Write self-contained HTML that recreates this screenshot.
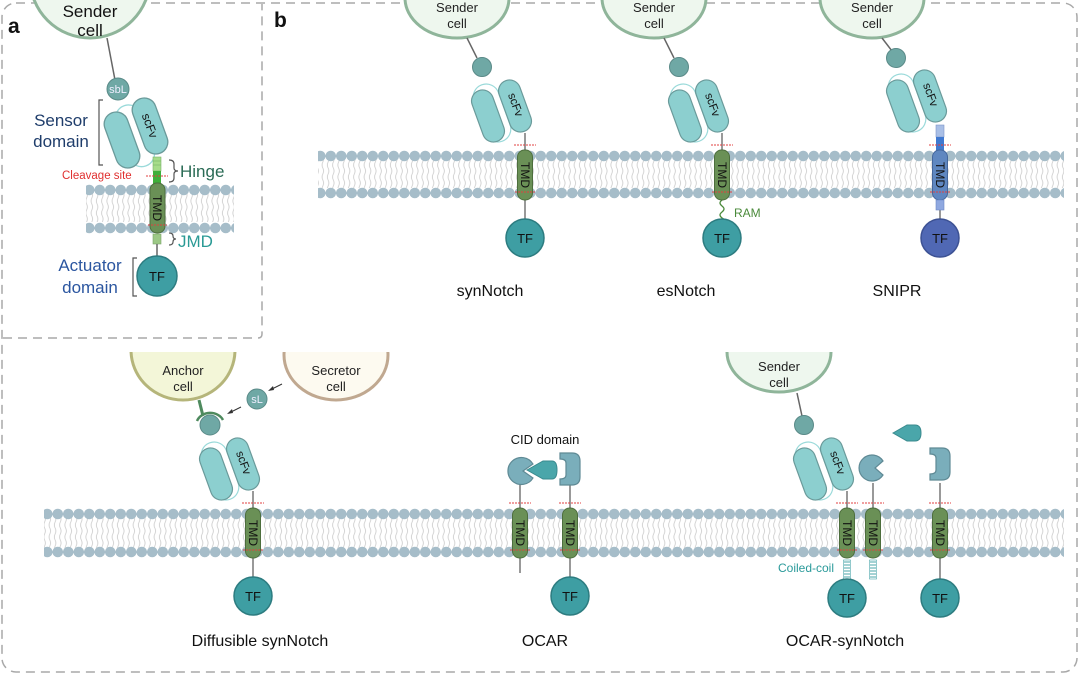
<!DOCTYPE html>
<html><head><meta charset="utf-8">
<style>
html,body{margin:0;padding:0;background:#fff;}
svg{display:block;font-family:"Liberation Sans",Arial,sans-serif;}
</style></head>
<body>
<svg width="1080" height="677" viewBox="0 0 1080 677" xmlns="http://www.w3.org/2000/svg">
<defs>
<pattern id="b184" x="0" y="184" width="10.5" height="12" patternUnits="userSpaceOnUse"><circle cx="5.25" cy="6" r="5.3" fill="#a6bdc9"/></pattern>
<pattern id="b222" x="0" y="222" width="10.5" height="12" patternUnits="userSpaceOnUse"><circle cx="5.25" cy="6" r="5.3" fill="#a6bdc9"/></pattern>
<pattern id="b150" x="0" y="150" width="10.5" height="12" patternUnits="userSpaceOnUse"><circle cx="5.25" cy="6" r="5.3" fill="#a6bdc9"/></pattern>
<pattern id="b187" x="0" y="187" width="10.5" height="12" patternUnits="userSpaceOnUse"><circle cx="5.25" cy="6" r="5.3" fill="#a6bdc9"/></pattern>
<pattern id="b508" x="0" y="508" width="10.5" height="12" patternUnits="userSpaceOnUse"><circle cx="5.25" cy="6" r="5.3" fill="#a6bdc9"/></pattern>
<pattern id="b546" x="0" y="546" width="10.5" height="12" patternUnits="userSpaceOnUse"><circle cx="5.25" cy="6" r="5.3" fill="#a6bdc9"/></pattern>
<pattern id="tail" x="0" y="0" width="5.25" height="24" patternUnits="userSpaceOnUse">
<path d="M2.6,0 q1.5,3 0,6 q-1.5,3 0,6 q1.5,3 0,6 q-1.5,3 0,6" fill="none" stroke="#c9c9c9" stroke-width="0.8"/>
</pattern>
<clipPath id="clipB"><rect x="0" y="352" width="1080" height="100"/></clipPath>
</defs>

<!-- frames -->
<rect x="2" y="3" width="1075" height="669" rx="14" fill="none" stroke="#a9a9a9" stroke-width="1.5" stroke-dasharray="9,6"/>
<path d="M3,338 H258 Q262,338 262,334 V4" fill="none" stroke="#a9a9a9" stroke-width="1.5" stroke-dasharray="9,6"/>
<text x="8" y="33" font-size="21" font-weight="bold" fill="#111">a</text>
<text x="274" y="27" font-size="21" font-weight="bold" fill="#111">b</text>

<!-- ============ membranes ============ -->
<rect x="86" y="194" width="148" height="28" fill="url(#tail)"/>
<rect x="86" y="184" width="148" height="12" fill="url(#b184)"/>
<rect x="86" y="222" width="148" height="12" fill="url(#b222)"/>
<rect x="318" y="160" width="746" height="28" fill="url(#tail)"/>
<rect x="318" y="150" width="746" height="12" fill="url(#b150)"/>
<rect x="318" y="187" width="746" height="12" fill="url(#b187)"/>
<rect x="44" y="518" width="1020" height="30" fill="url(#tail)"/>
<rect x="44" y="508" width="1020" height="12" fill="url(#b508)"/>
<rect x="44" y="546" width="1020" height="12" fill="url(#b546)"/>

<!-- ============ panel a ============ -->
<circle cx="90" cy="-22" r="60" fill="#eef7ee" stroke="#8fb59a" stroke-width="3"/>
<text x="90" y="17" font-size="17" text-anchor="middle" fill="#111">Sender</text>
<text x="90" y="36" font-size="17" text-anchor="middle" fill="#111">cell</text>
<line x1="107" y1="38" x2="115" y2="80" stroke="#666" stroke-width="1.5"/>
<circle cx="118" cy="89" r="11" fill="#6fa8a5" stroke="#5a8a88"/>
<text x="118" y="93" font-size="11" text-anchor="middle" fill="#eef">sbL</text>
<rect x="-13" y="-29" width="26" height="64" rx="13" transform="translate(134,133) rotate(-20)" fill="none" stroke="#9adada" stroke-width="1.3"/>
<rect x="-12" y="-29" width="24" height="58" rx="12" transform="translate(122,140) rotate(-20)" fill="#8ccfcf" stroke="#6a9a9a" stroke-width="1.3"/>
<rect x="-12" y="-29" width="24" height="58" rx="12" transform="translate(150,126) rotate(-20)" fill="#8ccfcf" stroke="#6a9a9a" stroke-width="1.3"/>
<text transform="translate(146,127) rotate(70)" font-size="12" text-anchor="middle" fill="#111">scFv</text>
<rect x="153" y="157" width="8" height="14" fill="#a6dc8a" stroke="#7bb36a" stroke-width="0.6"/>
<line x1="153" y1="161" x2="161" y2="161" stroke="#7bb36a" stroke-width="0.6"/>
<line x1="153" y1="165" x2="161" y2="165" stroke="#7bb36a" stroke-width="0.6"/>
<rect x="153" y="171" width="8" height="14" fill="#3fb03a"/>
<rect x="150" y="183" width="15" height="50" rx="7" fill="#6a9056" stroke="#4d6e3d"/>
<text transform="translate(153,208) rotate(90)" font-size="12" text-anchor="middle" fill="#111">TMD</text>
<line x1="146" y1="176" x2="168" y2="176" stroke="#e04040" stroke-width="1" stroke-dasharray="2,1"/>
<line x1="148" y1="225" x2="167" y2="225" stroke="#e04040" stroke-width="1" stroke-dasharray="2,1"/>
<rect x="153" y="234" width="8" height="10" fill="#9cc886" stroke="#7aa46a" stroke-width="0.6"/>
<line x1="157" y1="244" x2="157" y2="256" stroke="#666" stroke-width="1.5"/>
<circle cx="157" cy="276" r="20" fill="#3e9ea3" stroke="#2d7c80" stroke-width="1.5"/>
<text x="157" y="281" font-size="13" text-anchor="middle" fill="#111">TF</text>
<path d="M103,100 h-4 v65 h4" fill="none" stroke="#555" stroke-width="1.2"/>
<text x="61" y="126" font-size="17" text-anchor="middle" fill="#1f3d6b">Sensor</text>
<text x="61" y="147" font-size="17" text-anchor="middle" fill="#1f3d6b">domain</text>
<path d="M169,160 q5,0 5,4 v4 q0,3 4,3 q-4,0 -4,3 v4 q0,4 -5,4" fill="none" stroke="#555" stroke-width="1.2"/>
<text x="180" y="177" font-size="17" fill="#2a6b55">Hinge</text>
<text x="62" y="179" font-size="11.5" fill="#e03030">Cleavage site</text>
<path d="M169,233 q4,0 4,3 q0,3 3,3 q-3,0 -3,3 q0,3 -4,3" fill="none" stroke="#555" stroke-width="1.2"/>
<text x="178" y="247" font-size="17" fill="#2a9a95">JMD</text>
<path d="M137,258 h-4 v38 h4" fill="none" stroke="#555" stroke-width="1.2"/>
<text x="90" y="271" font-size="17" text-anchor="middle" fill="#2b56a0">Actuator</text>
<text x="90" y="293" font-size="17" text-anchor="middle" fill="#2b56a0">domain</text>

<!-- synNotch -->
<g transform="translate(525,155)">
<ellipse cx="-68" cy="-157" rx="52" ry="40" fill="#eef7ee" stroke="#8fb59a" stroke-width="3"/>
<text x="-68" y="-143" font-size="13" text-anchor="middle" fill="#222">Sender</text>
<text x="-68" y="-127" font-size="13" text-anchor="middle" fill="#222">cell</text>
<line x1="-48" y1="-97" x2="-58" y2="-117" stroke="#666" stroke-width="1.5"/>
<circle cx="-43" cy="-88" r="9.5" fill="#6fa8a5" stroke="#5a8a88"/>
<line x1="0" y1="-22" x2="0" y2="66" stroke="#777" stroke-width="1.5"/>
<rect x="-13" y="-30" width="26" height="60" rx="13" transform="translate(-33,-42) rotate(-20)" fill="none" stroke="#9adada" stroke-width="1.2"/>
<rect x="-11" y="-27" width="22" height="54" rx="11" transform="translate(-37,-39) rotate(-20)" fill="#8ccfcf" stroke="#6a9a9a" stroke-width="1.2"/>
<rect x="-11" y="-27" width="22" height="54" rx="11" transform="translate(-10,-49) rotate(-20)" fill="#8ccfcf" stroke="#6a9a9a" stroke-width="1.2"/>
<text transform="translate(-13,-49) rotate(70)" font-size="11.5" text-anchor="middle" fill="#111">scFv</text>
<line x1="-11" y1="-10" x2="11" y2="-10" stroke="#e04040" stroke-width="1" stroke-dasharray="2,1"/>
<rect x="-7.5" y="-5" width="15" height="50" rx="7" fill="#6a9056" stroke="#4d6e3d"/>
<text transform="translate(-4,20) rotate(90)" font-size="12" text-anchor="middle" fill="#111">TMD</text>
<line x1="-10" y1="37" x2="10" y2="37" stroke="#e04040" stroke-width="1" stroke-dasharray="2,1"/>
<circle cx="0" cy="83" r="19" fill="#3e9ea3" stroke="#2d7c80" stroke-width="1.5"/>
<text x="0" y="88" font-size="13" text-anchor="middle" fill="#111">TF</text>
</g>

<!-- esNotch -->
<g transform="translate(722,155)">
<ellipse cx="-68" cy="-157" rx="52" ry="40" fill="#eef7ee" stroke="#8fb59a" stroke-width="3"/>
<text x="-68" y="-143" font-size="13" text-anchor="middle" fill="#222">Sender</text>
<text x="-68" y="-127" font-size="13" text-anchor="middle" fill="#222">cell</text>
<line x1="-48" y1="-97" x2="-58" y2="-117" stroke="#666" stroke-width="1.5"/>
<circle cx="-43" cy="-88" r="9.5" fill="#6fa8a5" stroke="#5a8a88"/>
<line x1="0" y1="-22" x2="0" y2="0" stroke="#777" stroke-width="1.5"/>
<path d="M0,45 q-4,3 0,6 q4,3 0,6 q-4,3 0,6 q4,2 0,4" fill="none" stroke="#4a8a3a" stroke-width="1.3"/>
<rect x="-13" y="-30" width="26" height="60" rx="13" transform="translate(-33,-42) rotate(-20)" fill="none" stroke="#9adada" stroke-width="1.2"/>
<rect x="-11" y="-27" width="22" height="54" rx="11" transform="translate(-37,-39) rotate(-20)" fill="#8ccfcf" stroke="#6a9a9a" stroke-width="1.2"/>
<rect x="-11" y="-27" width="22" height="54" rx="11" transform="translate(-10,-49) rotate(-20)" fill="#8ccfcf" stroke="#6a9a9a" stroke-width="1.2"/>
<text transform="translate(-13,-49) rotate(70)" font-size="11.5" text-anchor="middle" fill="#111">scFv</text>
<line x1="-11" y1="-10" x2="11" y2="-10" stroke="#e04040" stroke-width="1" stroke-dasharray="2,1"/>
<rect x="-7.5" y="-5" width="15" height="50" rx="7" fill="#6a9056" stroke="#4d6e3d"/>
<text transform="translate(-4,20) rotate(90)" font-size="12" text-anchor="middle" fill="#111">TMD</text>
<line x1="-10" y1="37" x2="10" y2="37" stroke="#e04040" stroke-width="1" stroke-dasharray="2,1"/>
<text x="12" y="62" font-size="12" fill="#4a8a3a">RAM</text>
<circle cx="0" cy="83" r="19" fill="#3e9ea3" stroke="#2d7c80" stroke-width="1.5"/>
<text x="0" y="88" font-size="13" text-anchor="middle" fill="#111">TF</text>
</g>

<!-- SNIPR -->
<g transform="translate(940,155)">
<ellipse cx="-68" cy="-157" rx="52" ry="40" fill="#eef7ee" stroke="#8fb59a" stroke-width="3"/>
<text x="-68" y="-143" font-size="13" text-anchor="middle" fill="#222">Sender</text>
<text x="-68" y="-127" font-size="13" text-anchor="middle" fill="#222">cell</text>
<line x1="-48" y1="-104" x2="-58" y2="-117" stroke="#666" stroke-width="1.5"/>
<circle cx="-44" cy="-97" r="9.5" fill="#6fa8a5" stroke="#5a8a88"/>
<line x1="0" y1="-30" x2="0" y2="66" stroke="#777" stroke-width="1.5"/>
<rect x="-13" y="-30" width="26" height="60" rx="13" transform="translate(-33,-52) rotate(-20)" fill="none" stroke="#9adada" stroke-width="1.2"/>
<rect x="-11" y="-27" width="22" height="54" rx="11" transform="translate(-37,-49) rotate(-20)" fill="#8ccfcf" stroke="#6a9a9a" stroke-width="1.2"/>
<rect x="-11" y="-27" width="22" height="54" rx="11" transform="translate(-10,-59) rotate(-20)" fill="#8ccfcf" stroke="#6a9a9a" stroke-width="1.2"/>
<text transform="translate(-13,-59) rotate(70)" font-size="11.5" text-anchor="middle" fill="#111">scFv</text>
<rect x="-4" y="-30" width="8" height="12" fill="#a9bfe6" stroke="#7d95c8" stroke-width="0.6"/>
<rect x="-4" y="-18" width="8" height="14" fill="#3f78d0"/>
<line x1="-11" y1="-10" x2="11" y2="-10" stroke="#e04040" stroke-width="1" stroke-dasharray="2,1"/>
<rect x="-7.5" y="-5" width="15" height="50" rx="7" fill="#5f87c0" stroke="#45679c"/>
<text transform="translate(-4,20) rotate(90)" font-size="12" text-anchor="middle" fill="#111">TMD</text>
<line x1="-10" y1="37" x2="10" y2="37" stroke="#e04040" stroke-width="1" stroke-dasharray="2,1"/>
<rect x="-4" y="45" width="8" height="10" fill="#8fa8e0" stroke="#6d88c4" stroke-width="0.6"/>
<circle cx="0" cy="83" r="19" fill="#5068b4" stroke="#3d5294" stroke-width="1.5"/>
<text x="0" y="88" font-size="13" text-anchor="middle" fill="#111">TF</text>
</g>

<text x="490" y="296" font-size="16" text-anchor="middle" fill="#111">synNotch</text>
<text x="686" y="296" font-size="16" text-anchor="middle" fill="#111">esNotch</text>
<text x="897" y="296" font-size="16" text-anchor="middle" fill="#111">SNIPR</text>

<!-- ============ bottom row ============ -->
<g clip-path="url(#clipB)">
<ellipse cx="183" cy="350" rx="52" ry="50" fill="#f3f6d8" stroke="#b5b57a" stroke-width="3"/>
<ellipse cx="336" cy="355" rx="52" ry="45" fill="#fdfaf0" stroke="#c0a890" stroke-width="3"/>
<ellipse cx="779" cy="352" rx="52" ry="40" fill="#eef7ee" stroke="#8fb59a" stroke-width="3"/>
</g>
<text x="183" y="375" font-size="13" text-anchor="middle" fill="#222">Anchor</text>
<text x="183" y="391" font-size="13" text-anchor="middle" fill="#222">cell</text>
<text x="336" y="375" font-size="13" text-anchor="middle" fill="#222">Secretor</text>
<text x="336" y="391" font-size="13" text-anchor="middle" fill="#222">cell</text>
<line x1="199" y1="400" x2="203" y2="416" stroke="#4e8a5e" stroke-width="3"/>
<circle cx="210" cy="425" r="10" fill="#6fa8a5" stroke="#5a8a88"/>
<path d="M197,421 a14,12 0 0 1 26,-1" fill="none" stroke="#4e8a5e" stroke-width="2.5"/>
<circle cx="257" cy="399" r="10" fill="#6fa8a5" stroke="#5a8a88"/>
<text x="257" y="403" font-size="11" text-anchor="middle" fill="#eef">sL</text>
<line x1="282" y1="384" x2="270" y2="390" stroke="#333" stroke-width="1"/>
<path d="M268,391 l5,-5 l1,4 z" fill="#333"/>
<line x1="241" y1="407" x2="229" y2="413" stroke="#333" stroke-width="1"/>
<path d="M227,414 l5,-5 l1,4 z" fill="#333"/>
<g transform="translate(253,513)">
<line x1="0" y1="-22" x2="0" y2="66" stroke="#777" stroke-width="1.5"/>
<rect x="-13" y="-30" width="26" height="60" rx="13" transform="translate(-33,-42) rotate(-20)" fill="none" stroke="#9adada" stroke-width="1.2"/>
<rect x="-11" y="-27" width="22" height="54" rx="11" transform="translate(-37,-39) rotate(-20)" fill="#8ccfcf" stroke="#6a9a9a" stroke-width="1.2"/>
<rect x="-11" y="-27" width="22" height="54" rx="11" transform="translate(-10,-49) rotate(-20)" fill="#8ccfcf" stroke="#6a9a9a" stroke-width="1.2"/>
<text transform="translate(-13,-49) rotate(70)" font-size="11.5" text-anchor="middle" fill="#111">scFv</text>
<line x1="-11" y1="-10" x2="11" y2="-10" stroke="#e04040" stroke-width="1" stroke-dasharray="2,1"/>
<rect x="-7.5" y="-5" width="15" height="50" rx="7" fill="#6a9056" stroke="#4d6e3d"/>
<text transform="translate(-4,20) rotate(90)" font-size="12" text-anchor="middle" fill="#111">TMD</text>
<line x1="-10" y1="37" x2="10" y2="37" stroke="#e04040" stroke-width="1" stroke-dasharray="2,1"/>
<circle cx="0" cy="83" r="19" fill="#3e9ea3" stroke="#2d7c80" stroke-width="1.5"/>
<text x="0" y="88" font-size="13" text-anchor="middle" fill="#111">TF</text>
</g>

<!-- OCAR -->
<text x="545" y="444" font-size="13" text-anchor="middle" fill="#111">CID domain</text>
<g transform="translate(520,513)">
<line x1="0" y1="-30" x2="0" y2="60" stroke="#777" stroke-width="1.5"/>
<path d="M13,-49 A13.5,13.5 0 1 0 13,-35 L3,-42 Z" fill="#7aaebb" stroke="#5f8a95" stroke-width="1.2"/>
<line x1="-11" y1="-10" x2="11" y2="-10" stroke="#e04040" stroke-width="1" stroke-dasharray="2,1"/>
<rect x="-7.5" y="-5" width="15" height="50" rx="7" fill="#6a9056" stroke="#4d6e3d"/>
<text transform="translate(-4,20) rotate(90)" font-size="12" text-anchor="middle" fill="#111">TMD</text>
<line x1="-10" y1="37" x2="10" y2="37" stroke="#e04040" stroke-width="1" stroke-dasharray="2,1"/>
</g>
<path d="M527,470 L543,461 H552 Q557,461 557,470 Q557,479 552,479 H543 Z" fill="#4aa6aa" stroke="#3a8a8e" stroke-width="1"/>
<g transform="translate(570,513)">
<line x1="0" y1="-30" x2="0" y2="66" stroke="#777" stroke-width="1.5"/>
<path d="M-10,-60 H2 Q10,-60 10,-52 V-36 Q10,-28 2,-28 H-10 V-34 Q-4,-34 -4,-38 V-50 Q-4,-54 -10,-54 Z" fill="#7aaebb" stroke="#5f8a95" stroke-width="1.2"/>
<line x1="-11" y1="-10" x2="11" y2="-10" stroke="#e04040" stroke-width="1" stroke-dasharray="2,1"/>
<rect x="-7.5" y="-5" width="15" height="50" rx="7" fill="#6a9056" stroke="#4d6e3d"/>
<text transform="translate(-4,20) rotate(90)" font-size="12" text-anchor="middle" fill="#111">TMD</text>
<line x1="-10" y1="37" x2="10" y2="37" stroke="#e04040" stroke-width="1" stroke-dasharray="2,1"/>
<circle cx="0" cy="83" r="19" fill="#3e9ea3" stroke="#2d7c80" stroke-width="1.5"/>
<text x="0" y="88" font-size="13" text-anchor="middle" fill="#111">TF</text>
</g>

<!-- OCAR-synNotch -->
<text x="779" y="371" font-size="13" text-anchor="middle" fill="#222">Sender</text>
<text x="779" y="387" font-size="13" text-anchor="middle" fill="#222">cell</text>
<line x1="797" y1="393" x2="802" y2="416" stroke="#666" stroke-width="1.5"/>
<g transform="translate(847,513)">
<line x1="0" y1="-22" x2="0" y2="0" stroke="#777" stroke-width="1.5"/>
<circle cx="-43" cy="-88" r="9.5" fill="#6fa8a5" stroke="#5a8a88"/>
<rect x="-13" y="-30" width="26" height="60" rx="13" transform="translate(-33,-42) rotate(-20)" fill="none" stroke="#9adada" stroke-width="1.2"/>
<rect x="-11" y="-27" width="22" height="54" rx="11" transform="translate(-37,-39) rotate(-20)" fill="#8ccfcf" stroke="#6a9a9a" stroke-width="1.2"/>
<rect x="-11" y="-27" width="22" height="54" rx="11" transform="translate(-10,-49) rotate(-20)" fill="#8ccfcf" stroke="#6a9a9a" stroke-width="1.2"/>
<text transform="translate(-13,-49) rotate(70)" font-size="11.5" text-anchor="middle" fill="#111">scFv</text>
<line x1="-11" y1="-10" x2="11" y2="-10" stroke="#e04040" stroke-width="1" stroke-dasharray="2,1"/>
<rect x="-7.5" y="-5" width="15" height="50" rx="7" fill="#6a9056" stroke="#4d6e3d"/>
<text transform="translate(-4,20) rotate(90)" font-size="12" text-anchor="middle" fill="#111">TMD</text>
<line x1="-10" y1="37" x2="10" y2="37" stroke="#e04040" stroke-width="1" stroke-dasharray="2,1"/>
<path d="M-3,49 h6 M-3,52 h6 M-3,55 h6 M-3,58 h6 M-3,61 h6 M-3,64 h6" stroke="#4aa6aa" stroke-width="1"/>
<rect x="-3.5" y="47" width="7" height="19" fill="none" stroke="#4aa6aa" stroke-width="0.6"/>
<circle cx="0" cy="85" r="19" fill="#3e9ea3" stroke="#2d7c80" stroke-width="1.5"/>
<text x="0" y="90" font-size="13" text-anchor="middle" fill="#111">TF</text>
</g>
<text x="806" y="572" font-size="12" text-anchor="middle" fill="#2a9a9a">Coiled-coil</text>
<g transform="translate(873,513)">
<line x1="0" y1="-30" x2="0" y2="0" stroke="#777" stroke-width="1.5"/>
<path d="M10,-52 A13,13 0 1 0 10,-38 L2,-45 Z" fill="#7aaebb" stroke="#5f8a95" stroke-width="1.2"/>
<line x1="-11" y1="-10" x2="11" y2="-10" stroke="#e04040" stroke-width="1" stroke-dasharray="2,1"/>
<rect x="-7.5" y="-5" width="15" height="50" rx="7" fill="#6a9056" stroke="#4d6e3d"/>
<text transform="translate(-4,20) rotate(90)" font-size="12" text-anchor="middle" fill="#111">TMD</text>
<line x1="-10" y1="37" x2="10" y2="37" stroke="#e04040" stroke-width="1" stroke-dasharray="2,1"/>
<path d="M-3,49 h6 M-3,52 h6 M-3,55 h6 M-3,58 h6 M-3,61 h6 M-3,64 h6" stroke="#4aa6aa" stroke-width="1"/>
<rect x="-3.5" y="47" width="7" height="19" fill="none" stroke="#4aa6aa" stroke-width="0.6"/>
</g>
<path d="M893,433 L907,425 H915 Q921,425 921,433 Q921,441 915,441 H907 Z" fill="#4aa6aa" stroke="#3a8a8e" stroke-width="1"/>
<g transform="translate(940,513)">
<line x1="0" y1="-30" x2="0" y2="66" stroke="#777" stroke-width="1.5"/>
<path d="M-10,-65 H2 Q10,-65 10,-57 V-41 Q10,-33 2,-33 H-10 V-39 Q-4,-39 -4,-43 V-55 Q-4,-59 -10,-59 Z" fill="#7aaebb" stroke="#5f8a95" stroke-width="1.2"/>
<line x1="-11" y1="-10" x2="11" y2="-10" stroke="#e04040" stroke-width="1" stroke-dasharray="2,1"/>
<rect x="-7.5" y="-5" width="15" height="50" rx="7" fill="#6a9056" stroke="#4d6e3d"/>
<text transform="translate(-4,20) rotate(90)" font-size="12" text-anchor="middle" fill="#111">TMD</text>
<line x1="-10" y1="37" x2="10" y2="37" stroke="#e04040" stroke-width="1" stroke-dasharray="2,1"/>
<circle cx="0" cy="85" r="19" fill="#3e9ea3" stroke="#2d7c80" stroke-width="1.5"/>
<text x="0" y="90" font-size="13" text-anchor="middle" fill="#111">TF</text>
</g>

<text x="260" y="646" font-size="16" text-anchor="middle" fill="#111">Diffusible synNotch</text>
<text x="545" y="646" font-size="16" text-anchor="middle" fill="#111">OCAR</text>
<text x="845" y="646" font-size="16" text-anchor="middle" fill="#111">OCAR-synNotch</text>
</svg>
</body></html>
